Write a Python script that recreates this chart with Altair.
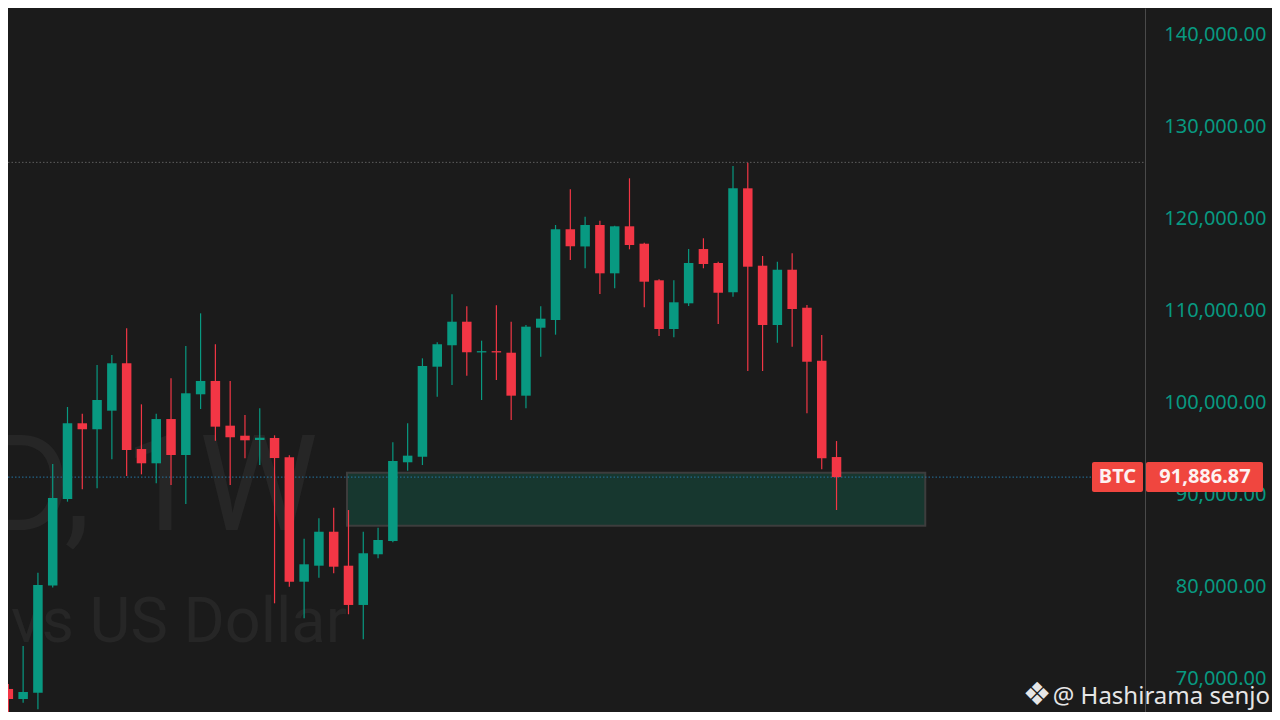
import altair as alt
import pandas as pd

# ---- weekly BTC candles ----
opens = [68860, 67770, 68450, 80100, 89510, 97740, 97090, 99110, 104260, 94940,
         93390, 98200, 94290, 100890, 102340, 97480, 96390, 95920, 96140, 94040,
         80520, 82260, 85950, 82260, 77990, 83500, 84940, 93500, 94110, 103890,
         106220, 108780, 105440, 105580, 105410, 100740, 108130, 108970, 118830, 116960,
         119290, 114040, 119150, 117260, 113280, 107990, 110780, 116680, 115160, 111980,
         123280, 114870, 108420, 114430, 110300, 104540, 94070]
highs = [69400, 73530, 81500, 93310, 99510, 98780, 104070, 105160, 108060, 99800,
         98780, 102630, 106140, 109690, 106330, 102340, 98640, 99370, 96430, 94260,
         85190, 87410, 88560, 88310, 85950, 86390, 95670, 97740, 104800, 106540,
         111760, 110460, 106720, 110560, 108780, 108420, 110460, 119290, 123170, 120200,
         119760, 119200, 124370, 117370, 113390, 113280, 116680, 117850, 115300, 125710,
         126070, 115920, 115300, 116220, 110600, 107340, 95810]
lows = [66360, 67370, 66650, 79900, 89220, 90560, 90670, 93820, 92010, 92190,
        91220, 91030, 88970, 99290, 95850, 91030, 93930, 93200, 78170, 79980,
        76540, 80950, 81430, 76980, 74260, 83060, 84800, 92590, 93200, 100630,
        101900, 102910, 100270, 102440, 98100, 99370, 104980, 107370, 115490, 114590,
        111790, 112410, 116650, 110350, 107230, 107090, 110490, 114590, 108530, 111500,
        103420, 103420, 106500, 106060, 98820, 92740, 88310]
closes = [67770, 68530, 80160, 89620, 97740, 97090, 100270, 104260, 94840, 93390,
          98200, 94290, 101000, 102340, 97370, 96220, 95890, 96170, 93960, 80520,
          82410, 85950, 82150, 77990, 83610, 85050, 93640, 94220, 103970, 106330,
          108780, 105460, 105580, 105440, 100740, 108240, 109110, 118830, 116980, 119290,
          114040, 119150, 117120, 113130, 107990, 110890, 115160, 115050, 111930, 123280,
          114760, 108420, 114430, 110160, 104430, 93930, 91886.87]
weeks = list(range(len(opens)))

y_ticks = [70000, 80000, 90000, 100000, 110000, 120000, 130000, 140000]
ath_level = [126100]
zone_low = [86600]
zone_high = [92370]
zone_start = [22.9]
zone_end = [62.0]
symbol = ["BTC"]
wm_line1 = ["BTCUSD, 1W"]
wm_line2 = ["Bitcoin vs US Dollar"]
attribution = ["@ Hashirama senjo"]
logo = ["\u2756"]

# ---- layout constants ----
W, H = 1137, 704
Y_DOMAIN = [66356, 142880]
X_DOMAIN = [0.315, 76.52]
GREEN = "#089981"
RED = "#f23645"
BG = "#1b1b1b"

df = pd.DataFrame({"i": weeks, "open": opens, "high": highs, "low": lows, "close": closes})
df["dir"] = ["up" if c >= o else "down" for o, c in zip(opens, closes)]

xscale = alt.Scale(domain=X_DOMAIN, nice=False, zero=False)
yscale = alt.Scale(domain=Y_DOMAIN, nice=False, zero=False)
yaxis = alt.Axis(orient="right", values=y_ticks, format=",.2f", labelColor=GREEN,
                 labelFontSize=20, labelFont="Noto Sans", labelAlign="right",
                 labelBaseline="middle", labelPadding=121, ticks=False, tickSize=0,
                 grid=False, domainColor="#4a4a4a", domainWidth=1, title=None,
                 labelOverlap=False, labelFlush=False)


def yenc(field):
    return alt.Y(field, scale=yscale, axis=yaxis)


def xenc(field):
    return alt.X(field, scale=xscale, axis=None)


color = alt.Color("dir:N", scale=alt.Scale(domain=["up", "down"], range=[GREEN, RED]), legend=None)

# watermark
wm1 = alt.Chart(pd.DataFrame({"t": wm_line1})).mark_text(
    align="right", baseline="alphabetic", fontSize=134, font="Roboto", color="#262626"
).encode(x=alt.value(310), y=alt.value(522), text="t:N")
wm2 = alt.Chart(pd.DataFrame({"t": wm_line2})).mark_text(
    align="right", baseline="alphabetic", fontSize=63, font="Roboto", color="#262626"
).encode(x=alt.value(339), y=alt.value(634), text="t:N")

# demand zone
zone = alt.Chart(pd.DataFrame({"x1": zone_start, "x2": zone_end, "y1": zone_low, "y2": zone_high})).mark_rect(
    fill="#17372f", stroke="#3d3d3d", strokeWidth=2
).encode(x=xenc("x1:Q"), x2="x2:Q", y=yenc("y1:Q"), y2="y2:Q")

# ATH dotted line
ath = alt.Chart(pd.DataFrame({"level": ath_level})).mark_rule(
    color="#5e5e5e", strokeDash=[1.5, 2], strokeWidth=1
).encode(y=yenc("level:Q"), x=alt.value(0), x2=alt.value(W))

# price line
last = closes[-1]
price_df = pd.DataFrame({"price": [last]})
pline = alt.Chart(price_df).mark_rule(
    color="#2474a2", strokeDash=[1.5, 2], strokeWidth=1
).encode(y=yenc("price:Q"), x=alt.value(0), x2=alt.value(1083))

# candles
wicks = alt.Chart(df).mark_rule(strokeWidth=1.2).encode(
    x=xenc("i:Q"), y=yenc("low:Q"), y2="high:Q", color=color)
bodies = alt.Chart(df).mark_bar(width=9.5).encode(
    x=xenc("i:Q"), y=yenc("open:Q"), y2="close:Q", color=color)

# price label on axis
half = 15 * (Y_DOMAIN[1] - Y_DOMAIN[0]) / H
lab_df = pd.DataFrame({"price": [last], "lo": [last - half], "hi": [last + half],
                       "sym": symbol, "txt": [f"{last:,.2f}"]})
lab_sym_box = alt.Chart(lab_df).mark_rect(color="#f0463f", cornerRadius=2).encode(
    x=alt.value(1084), x2=alt.value(1135), y=yenc("hi:Q"), y2="lo:Q")
lab_val_box = alt.Chart(lab_df).mark_rect(color="#f0463f", cornerRadius=2).encode(
    x=alt.value(1138), x2=alt.value(1255), y=yenc("hi:Q"), y2="lo:Q")
lab_sym = alt.Chart(lab_df).mark_text(
    fontSize=20, font="Noto Sans", fontWeight="bold", color="#fdf2f2", align="center", baseline="middle"
).encode(x=alt.value(1109.5), y=yenc("price:Q"), text="sym:N")
lab_val = alt.Chart(lab_df).mark_text(
    fontSize=20, font="Noto Sans", fontWeight="bold", color="#fdf2f2", align="center", baseline="middle"
).encode(x=alt.value(1197), y=yenc("price:Q"), text="txt:N")

# attribution
attr = alt.Chart(pd.DataFrame({"t": attribution})).mark_text(
    align="right", baseline="alphabetic", fontSize=24, font="Noto Sans", color="#e6e6e6"
).encode(x=alt.value(1262), y=alt.value(696), text="t:N")
logo_m = alt.Chart(pd.DataFrame({"t": logo})).mark_text(
    align="center", baseline="middle", fontSize=32, font="DejaVu Sans", color="#e6e6e6"
).encode(x=alt.value(1029), y=alt.value(687), text="t:N")

chart = alt.layer(
    wm1, wm2, zone, ath, pline, wicks, bodies,
    lab_sym_box, lab_val_box, lab_sym, lab_val, attr, logo_m
).properties(
    width=W, height=H, background=BG,
    padding={"left": 0, "top": 0, "right": 127, "bottom": 0},
    autosize=alt.AutoSizeParams(type="none"),
).configure_view(strokeWidth=0)

chart.save("out.html", embed_options={"renderer": "svg", "actions": False})
